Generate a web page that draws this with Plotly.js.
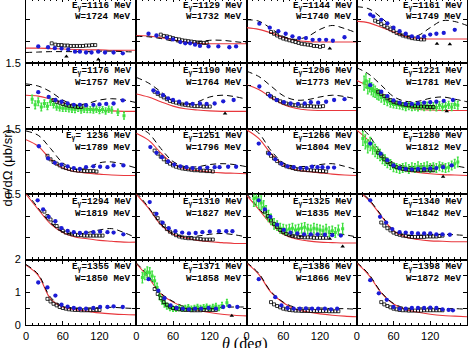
<!DOCTYPE html>
<html>
<head>
<meta charset="utf-8">
<script src="https://cdn.plot.ly/plotly-3.0.1.min.js"></script>
<style>
html,body{margin:0;padding:0;overflow:hidden;background:#fff;width:474px;height:348px;}
#chart{position:absolute;left:0;top:-10px;width:474px;height:370px;}
</style>
</head>
<body>
<div id="chart"></div>
<script>
const energies = [1116,1129,1144,1161,1176,1190,1206,1221,1236,1251,1266,1280,1294,1310,1325,1340,1355,1371,1386,1398];
const wValues = [1724,1732,1740,1749,1757,1764,1773,1781,1789,1796,1804,1812,1819,1827,1835,1842,1850,1858,1866,1872];
const gridTheta = [0,20,40,60,80,100,120,140,160,180];

const redCurves = [
[0.35,0.35,0.34,0.33,0.32,0.31,0.31,0.30,0.30,0.30],
[0.64,0.63,0.59,0.54,0.49,0.46,0.45,0.45,0.45,0.45],
[0.82,0.78,0.70,0.60,0.53,0.50,0.49,0.49,0.49,0.49],
[0.97,0.93,0.83,0.72,0.62,0.57,0.56,0.56,0.56,0.56],
[0.77,0.75,0.68,0.60,0.52,0.47,0.43,0.41,0.40,0.40],
[0.80,0.73,0.62,0.52,0.46,0.43,0.41,0.40,0.40,0.40],
[1.01,0.90,0.72,0.56,0.47,0.43,0.42,0.42,0.42,0.42],
[1.11,0.98,0.80,0.60,0.50,0.45,0.43,0.42,0.42,0.42],
[1.25,1.10,0.80,0.60,0.52,0.48,0.46,0.44,0.43,0.43],
[1.40,1.24,0.95,0.70,0.58,0.54,0.51,0.49,0.48,0.47],
[1.48,1.28,0.93,0.67,0.56,0.52,0.49,0.46,0.44,0.43],
[1.47,1.22,0.88,0.64,0.54,0.50,0.47,0.45,0.44,0.43],
[1.50,1.15,0.82,0.62,0.52,0.48,0.44,0.42,0.40,0.40],
[1.50,1.18,0.80,0.58,0.50,0.44,0.41,0.39,0.37,0.37],
[1.48,1.15,0.82,0.58,0.48,0.43,0.40,0.39,0.38,0.38],
[1.60,1.36,1.00,0.66,0.52,0.46,0.43,0.42,0.41,0.41],
[1.83,1.52,0.80,0.55,0.47,0.42,0.37,0.34,0.32,0.31],
[1.88,1.45,0.95,0.70,0.54,0.45,0.38,0.33,0.30,0.28],
[1.90,1.55,1.00,0.68,0.48,0.40,0.34,0.30,0.27,0.25],
[1.90,1.52,0.98,0.64,0.47,0.39,0.33,0.29,0.27,0.25]
];

const dashCurves = [
[0.25,0.26,0.27,0.27,0.27,0.27,0.28,0.28,0.27,0.26],
[0.62,0.61,0.57,0.51,0.47,0.49,0.53,0.53,0.50,0.47],
[1.00,0.97,0.80,0.62,0.55,0.62,0.78,0.87,0.80,0.70],
[1.30,1.25,1.05,0.80,0.62,0.64,0.82,0.98,0.96,0.87],
[1.03,0.98,0.85,0.66,0.55,0.58,0.66,0.69,0.66,0.60],
[1.18,1.05,0.85,0.63,0.56,0.62,0.73,0.77,0.74,0.68],
[1.32,1.20,0.98,0.76,0.66,0.67,0.73,0.77,0.74,0.68],
[1.40,1.25,1.00,0.74,0.63,0.63,0.70,0.73,0.68,0.62],
[1.45,1.35,1.05,0.72,0.57,0.60,0.72,0.74,0.68,0.60],
[1.55,1.40,1.05,0.75,0.63,0.63,0.68,0.70,0.68,0.63],
[1.58,1.40,1.00,0.72,0.64,0.64,0.68,0.70,0.64,0.56],
[1.62,1.35,0.95,0.72,0.64,0.64,0.66,0.67,0.65,0.60],
[1.55,1.18,0.84,0.64,0.58,0.62,0.68,0.71,0.62,0.50],
[1.55,1.20,0.82,0.60,0.52,0.54,0.58,0.60,0.57,0.52],
[1.52,1.18,0.85,0.62,0.53,0.55,0.58,0.60,0.57,0.52],
[1.62,1.38,1.02,0.68,0.56,0.56,0.57,0.58,0.57,0.55],
[1.85,1.55,0.85,0.58,0.52,0.52,0.53,0.54,0.52,0.50],
[1.90,1.50,0.98,0.72,0.56,0.52,0.52,0.54,0.55,0.55],
[1.92,1.58,1.02,0.70,0.54,0.52,0.52,0.50,0.50,0.48],
[1.92,1.55,1.00,0.66,0.52,0.52,0.52,0.50,0.50,0.48]
];

const blueTheta = [
[20,36,47,58,69,80,88,98,107,118,129,143,158],
[20,33,50,60,72,80,88,96,104,118,134,152,163],
[21,38,52,64,75,86,97,108,119,130,141,160],
[22,27,40,50,60,70,80,90,100,110,120,130,142,160],
[20,37,48,58,68,78,88,98,110,120,131,143,158],
[28,35,44,52,60,70,82,92,104,115,128,142,159],
[21,38,49,61,72,84,95,105,117,130,143,160],
[22,40,50,60,70,80,90,100,110,120,130,142,157],
[21,36,47,58,68,78,88,98,110,121,133,143,159],
[23,33,42,52,62,72,82,92,104,116,128,136,150,163],
[20,37,47,57,67,77,88,98,107,116,124,133,143],
[22,39,50,60,70,80,90,100,110,120,130,141,155],
[19,28,37,48,58,68,78,88,98,110,121,133,143,159],
[22,33,43,53,64,75,86,97,108,120,135,147,157],
[20,30,39,50,61,72,83,94,105,116,128,140,154],
[22,38,48,58,70,80,90,100,110,120,130,140,152],
[20,35,48,58,68,78,88,98,110,121,133,143,158],
[20,36,46,56,66,76,86,96,106,118,130,142,152,165],
[20,47,57,67,77,87,97,107,117,128,138,148],
[22,36,49,60,70,80,90,100,110,120,130,140,150,157]
];
const blueVal = [
[0.39,0.37,0.35,0.34,0.32,0.27,0.27,0.25,0.25,0.27,0.25,0.25,0.23],
[0.68,0.64,0.59,0.55,0.49,0.46,0.46,0.43,0.40,0.39,0.39,0.37,0.39],
[0.91,0.82,0.74,0.68,0.62,0.58,0.58,0.54,0.54,0.54,0.52,0.60],
[1.12,1.08,1.00,0.92,0.82,0.74,0.68,0.62,0.60,0.62,0.66,0.68,0.70,0.77],
[0.84,0.73,0.66,0.62,0.58,0.55,0.55,0.54,0.55,0.56,0.57,0.58,0.65],
[0.88,0.83,0.77,0.70,0.66,0.62,0.58,0.57,0.58,0.57,0.58,0.63,0.66],
[0.97,0.76,0.66,0.61,0.58,0.57,0.58,0.61,0.60,0.62,0.66,0.68],
[1.00,0.85,0.75,0.65,0.60,0.57,0.57,0.58,0.60,0.61,0.62,0.64,0.66],
[1.10,0.82,0.72,0.68,0.64,0.60,0.58,0.62,0.64,0.63,0.62,0.66,0.66],
[1.08,0.95,0.85,0.75,0.68,0.64,0.62,0.60,0.60,0.61,0.62,0.62,0.63,0.63],
[1.16,0.93,0.80,0.70,0.64,0.62,0.60,0.60,0.63,0.62,0.62,0.61,0.61],
[1.16,0.93,0.78,0.66,0.60,0.58,0.57,0.58,0.58,0.59,0.60,0.62,0.66],
[1.36,1.15,0.98,0.88,0.72,0.66,0.63,0.61,0.62,0.63,0.64,0.63,0.62,0.58],
[1.32,1.05,0.85,0.72,0.65,0.62,0.60,0.61,0.63,0.64,0.65,0.65,0.65],
[1.36,1.15,0.98,0.80,0.68,0.62,0.60,0.58,0.58,0.58,0.57,0.56,0.55],
[1.36,0.98,0.85,0.70,0.63,0.62,0.61,0.60,0.60,0.60,0.58,0.58,0.57],
[1.30,1.15,0.90,0.62,0.56,0.52,0.50,0.50,0.52,0.55,0.55,0.57,0.55],
[1.40,1.05,0.82,0.60,0.52,0.50,0.48,0.50,0.50,0.52,0.50,0.55,0.58,0.55],
[1.40,0.85,0.60,0.52,0.50,0.50,0.51,0.50,0.50,0.50,0.48,0.50],
[1.37,0.97,0.77,0.55,0.50,0.50,0.52,0.52,0.52,0.53,0.52,0.48,0.46,0.45]
];

const openTheta = [
[42,48,53,58,63,68,73,78,83,88,93,98,103,108,113],
[40,45,50,55,60,65,70,75,80,85,90,95,100,105,110,115],
[40,45,50,55,60,65,70,75,80,85,90,95,100,105,110,115,120,125],
[30,35,40,45,50,55,60,65,70,75,80,85,90,95,100,105,110],
[45,50,55,60,65,70,75,80,85,90],
[30,35,40,45,50,55,60,65,70,75,80,85,90,95,100,105,110,115,120],
[35,40,45,50,55,60,65,70,75,80,85,90,95,100,105,110,115,120,125],
[35,40,45,50,55,60,65,70,75,80,85,90,95,100,105,110,115,120,125],
[35,40,45,50,55,60,65,70,75,80,85,90,95,100,105,110,115],
[30,35,40,45,50,55,60,65,70,75,80,85,90,95,100,105,110,115,120,125],
[35,40,45,50,55,60,65,70,75,80,85,90,95,100,105,110,115,120,125,130],
[35,40,45,50,55,60,65,70,75,80,85,90,95,100,105,110,115,120,125],
[30,35,40,45,50,55,60,65,70,75,80,85,90,95,100,105,110,115,120,125],
[30,35,40,45,50,55,60,65,70,75,80,85,90,95,100,105,110,115,120,125],
[30,35,40,45,50,55,60,65,70,75,80,85,90,95,100,105,110,115,120,125,130],
[40,45,50,55,60,65,70,75,80,85,90,95,100,105,110,115,120,125,130,135,140],
[35,40,45,50,55,60,65,70,75,80,85,90,95,100,105,110,115,120],
[30,35,40,45,50,55,60,65,70,75,80,85,90,95,100,105,110,115,120,125,130],
[40,45,50,55,60,65,70,75,80,85,90,95,100,105,110,115,120,125,130,135,140,145,150],
[40,45,50,55,60,65,70,75,80,85,90,95,100,105,110,115,120,125,130,135,140]
];
const openVal = [
[0.46,0.43,0.42,0.42,0.41,0.41,0.40,0.40,0.40,0.40,0.40,0.41,0.41,0.42,0.42],
[0.66,0.63,0.62,0.60,0.58,0.56,0.55,0.53,0.52,0.51,0.50,0.49,0.48,0.48,0.47,0.47],
[0.72,0.68,0.64,0.60,0.57,0.55,0.53,0.51,0.49,0.47,0.45,0.44,0.43,0.42,0.40,0.40,0.38,0.40],
[0.98,0.95,0.90,0.86,0.82,0.78,0.74,0.70,0.67,0.64,0.62,0.60,0.58,0.57,0.56,0.55,0.55],
[0.66,0.62,0.60,0.57,0.55,0.53,0.52,0.51,0.50,0.50],
[0.85,0.80,0.76,0.72,0.68,0.64,0.62,0.60,0.58,0.56,0.55,0.54,0.53,0.52,0.52,0.52,0.51,0.51,0.51],
[0.80,0.74,0.70,0.66,0.63,0.60,0.58,0.56,0.55,0.54,0.53,0.53,0.52,0.52,0.52,0.51,0.51,0.51,0.52],
[0.85,0.80,0.75,0.70,0.66,0.62,0.60,0.58,0.56,0.55,0.54,0.53,0.52,0.52,0.51,0.51,0.50,0.50,0.50],
[0.88,0.80,0.74,0.70,0.66,0.62,0.60,0.58,0.56,0.55,0.54,0.54,0.53,0.53,0.53,0.53,0.52],
[1.00,0.93,0.86,0.80,0.74,0.70,0.66,0.63,0.61,0.59,0.58,0.57,0.56,0.55,0.55,0.54,0.54,0.53,0.53,0.52],
[0.95,0.88,0.82,0.76,0.71,0.67,0.64,0.62,0.60,0.58,0.57,0.56,0.56,0.55,0.55,0.54,0.54,0.53,0.53,0.52],
[0.95,0.88,0.80,0.74,0.69,0.65,0.62,0.60,0.58,0.57,0.56,0.56,0.55,0.55,0.55,0.55,0.55,0.55,0.55],
[1.10,1.00,0.92,0.84,0.77,0.71,0.66,0.62,0.60,0.58,0.57,0.56,0.56,0.55,0.55,0.55,0.55,0.55,0.55,0.55],
[1.05,0.95,0.85,0.78,0.70,0.64,0.60,0.56,0.53,0.51,0.50,0.49,0.49,0.48,0.48,0.47,0.46,0.46,0.46,0.46],
[1.10,1.00,0.90,0.82,0.75,0.68,0.63,0.59,0.56,0.54,0.53,0.52,0.52,0.51,0.51,0.51,0.50,0.50,0.50,0.50,0.50],
[0.85,0.78,0.72,0.67,0.62,0.59,0.57,0.55,0.54,0.53,0.52,0.52,0.52,0.52,0.52,0.53,0.53,0.53,0.53,0.54,0.55],
[0.80,0.72,0.65,0.60,0.55,0.52,0.50,0.48,0.47,0.46,0.46,0.45,0.45,0.45,0.45,0.46,0.46,0.46],
[1.10,0.95,0.82,0.70,0.62,0.56,0.52,0.50,0.48,0.47,0.46,0.46,0.45,0.45,0.45,0.45,0.46,0.46,0.46,0.46,0.46],
[0.70,0.63,0.58,0.54,0.50,0.48,0.46,0.45,0.44,0.44,0.43,0.43,0.43,0.43,0.43,0.43,0.43,0.43,0.43,0.42,0.42,0.42,0.42],
[0.70,0.63,0.58,0.54,0.50,0.48,0.46,0.45,0.45,0.44,0.44,0.44,0.44,0.44,0.45,0.45,0.45,0.45,0.45,0.45,0.45]
];

const triPanels = [0,2,3,5,7,11,14,17];
const triTheta = [[66,118],[136],[131,152],[145],[147],[141],[136,157],[156]];
const triVal = [[0.16,0.09],[0.34],[0.45,0.44],[0.35],[0.40],[0.40],[0.48,0.30],[0.28]];

const greenPanels = [4,7,11,14,17];
const greenTheta = [
[10,15,20,25,30,35,40,45,50,55,60,65,70,75,80,85,90,95,100,105,110,115,120,125,130,135,140,150,160],
[12,15,18,21,24,27,30,33,36,40,45,50,55,60,65,70,75,80,85,90,95,100,105,110,115,120,125,130,135,140,145,150,155,160,165],
[10,14,18,22,26,30,34,38,42,46,50,55,60,65,70,75,80,85,90,95,100,105,110,115,120,125,130,135,140,145,150,155,160,165],
[12,16,20,24,28,32,36,40,45,50,55,60,65,70,75,80,85,90,95,100,105,110,115,120,125,130,135,140,145,150,157],
[10,14,18,22,26,30,34,38,42,46,50,55,60,65,70,75,80,85,90,95,100,105,110,115,120,125,130,135,140,148]
];
const greenVal = [
[0.68,0.55,0.62,0.50,0.58,0.52,0.62,0.56,0.50,0.48,0.47,0.47,0.46,0.45,0.44,0.47,0.43,0.45,0.44,0.44,0.43,0.45,0.42,0.44,0.41,0.45,0.43,0.38,0.30],
[1.05,1.10,0.95,1.00,0.92,0.88,0.85,0.80,0.78,0.72,0.66,0.62,0.58,0.56,0.55,0.54,0.52,0.50,0.52,0.50,0.51,0.49,0.52,0.50,0.53,0.50,0.52,0.49,0.54,0.50,0.52,0.55,0.50,0.56,0.54],
[1.28,1.20,1.10,1.15,1.06,1.00,0.95,0.90,0.82,0.78,0.72,0.68,0.62,0.60,0.58,0.60,0.62,0.58,0.62,0.60,0.64,0.60,0.62,0.64,0.60,0.62,0.60,0.64,0.62,0.60,0.62,0.66,0.70,0.74],
[1.40,1.42,1.35,1.30,1.20,1.10,1.00,0.92,0.82,0.78,0.72,0.70,0.68,0.70,0.72,0.68,0.70,0.72,0.74,0.70,0.68,0.72,0.70,0.68,0.66,0.70,0.64,0.66,0.62,0.68,0.71],
[1.45,1.55,1.62,1.60,1.50,1.35,1.15,0.90,0.75,0.65,0.58,0.52,0.50,0.50,0.52,0.50,0.52,0.54,0.50,0.52,0.55,0.52,0.54,0.56,0.52,0.55,0.58,0.52,0.60,0.68]
];
const greenErr = [
[0.09,0.09,0.09,0.09,0.08,0.08,0.08,0.08,0.07,0.07,0.07,0.07,0.07,0.07,0.07,0.07,0.07,0.07,0.07,0.07,0.07,0.07,0.07,0.07,0.07,0.07,0.07,0.07,0.08],
[0.16,0.16,0.15,0.15,0.14,0.14,0.13,0.12,0.12,0.11,0.10,0.09,0.08,0.08,0.08,0.08,0.08,0.08,0.08,0.08,0.08,0.08,0.08,0.08,0.08,0.08,0.08,0.08,0.08,0.08,0.08,0.08,0.08,0.09,0.09],
[0.16,0.16,0.15,0.15,0.14,0.14,0.13,0.13,0.12,0.12,0.11,0.11,0.10,0.10,0.10,0.10,0.10,0.10,0.10,0.10,0.10,0.10,0.10,0.10,0.10,0.10,0.10,0.10,0.10,0.10,0.10,0.10,0.10,0.11],
[0.18,0.18,0.17,0.16,0.15,0.14,0.13,0.12,0.12,0.11,0.11,0.11,0.11,0.11,0.11,0.11,0.11,0.11,0.11,0.11,0.11,0.11,0.11,0.11,0.11,0.11,0.11,0.11,0.11,0.11,0.12],
[0.16,0.16,0.16,0.15,0.15,0.14,0.13,0.12,0.11,0.10,0.09,0.08,0.08,0.08,0.08,0.08,0.08,0.08,0.08,0.08,0.08,0.08,0.08,0.08,0.08,0.08,0.08,0.08,0.09,0.10]
];

const xTickVals = [0,60,120,180];
const xTickTextInner = ['0','60','120',''];
const xTickTextLast = ['0','60','120','180'];
const yTickValsUpper = [0,0.5,1,1.5];
const yTickTextUpper = ['','','','1.5'];
const yTickValsLower = [0,0.5,1,1.5,2];
const yTickTextLower = ['0','','1','','2'];

const RED = '#e8373c', BLUE = '#1c1cd6', GREEN = '#3fe03f';
const traces = [];
const layout = {
  width: 474, height: 370,
  margin: {l: 26, r: 7, t: 7.5, b: 35},
  paper_bgcolor: '#fff', plot_bgcolor: '#fff',
  showlegend: false,
  annotations: []
};
const tickFont = {family: 'Liberation Sans, Arial, sans-serif', size: 11, color: '#000'};
const labFont = {family: 'Liberation Mono, Courier New, monospace', size: 9.2, color: '#000'};

for (let i = 0; i < 20; i++) {
  const r = Math.floor(i / 4), c = i % 4;
  const n = i + 1;
  const xs = n === 1 ? 'x' : 'x' + n;
  const ys = n === 1 ? 'y' : 'y' + n;
  traces.push({x: gridTheta, y: redCurves[i], xaxis: xs, yaxis: ys, type: 'scatter', mode: 'lines',
    line: {color: RED, width: 1.1, shape: 'spline', smoothing: 1}, hoverinfo: 'skip'});
  traces.push({x: gridTheta, y: dashCurves[i], xaxis: xs, yaxis: ys, type: 'scatter', mode: 'lines',
    line: {color: '#000', width: 1, dash: '6px,4px', shape: 'spline', smoothing: 1}, hoverinfo: 'skip'});
  const g = greenPanels.indexOf(i);
  if (g >= 0) {
    traces.push({x: greenTheta[g], y: greenVal[g], xaxis: xs, yaxis: ys, type: 'scatter', mode: 'markers',
      marker: {symbol: 'square', size: 3, color: GREEN},
      error_y: {type: 'data', array: greenErr[g], color: GREEN, thickness: 1.3, width: 1}});
  }
  traces.push({x: openTheta[i], y: openVal[i], xaxis: xs, yaxis: ys, type: 'scatter', mode: 'markers',
    marker: {symbol: 'square-open', size: 3, color: '#000', line: {width: 0.8, color: '#000'}}});
  traces.push({x: blueTheta[i], y: blueVal[i], xaxis: xs, yaxis: ys, type: 'scatter', mode: 'markers',
    marker: {symbol: 'circle', size: 4.3, color: BLUE}});
  const t = triPanels.indexOf(i);
  if (t >= 0) {
    traces.push({x: triTheta[t], y: triVal[t], xaxis: xs, yaxis: ys, type: 'scatter', mode: 'markers',
      marker: {symbol: 'triangle-up', size: 4, color: '#000'}});
  }
  const common = {showline: true, linecolor: '#000', linewidth: 1, mirror: 'ticks', ticks: 'inside',
    ticklen: 4, tickwidth: 1, tickcolor: '#000', showgrid: false, zeroline: false, tickfont: tickFont};
  layout['xaxis' + (n === 1 ? '' : n)] = Object.assign({}, common, {
    domain: [c * 0.25, (c + 1) * 0.25], range: [0, 180], anchor: ys,
    tickmode: 'array', tickvals: xTickVals, ticktext: c === 3 ? xTickTextLast : xTickTextInner,
    showticklabels: r === 4, ticklabelstandoff: 1,
    minor: {ticks: 'inside', ticklen: 2.5, tickwidth: 1, tickcolor: '#000', dtick: 10, tick0: 0, showgrid: false}
  });
  layout['yaxis' + (n === 1 ? '' : n)] = Object.assign({}, common, {
    domain: [1 - (r + 1) * 0.2, 1 - r * 0.2], range: r === 4 ? [0, 2] : [0, 1.5], anchor: xs,
    tickmode: 'array', tickvals: r === 4 ? yTickValsLower : yTickValsUpper,
    ticktext: r === 4 ? yTickTextLower : (r === 0 ? ['', '', '', ''] : yTickTextUpper),
    showticklabels: c === 0, ticklabelstandoff: 2
  });
  layout.annotations.push({xref: xs + ' domain', yref: ys + ' domain', x: 1, y: 0.885, xanchor: 'right', yanchor: 'middle',
    xshift: -3, showarrow: false, font: labFont,
    text: '<b>E<sub>γ</sub>=' + (energies[i] === 1236 ? ' ' : '') + energies[i] + ' MeV</b>'});
  layout.annotations.push({xref: xs + ' domain', yref: ys + ' domain', x: 1, y: 0.71, xanchor: 'right', yanchor: 'middle',
    xshift: -3, showarrow: false, font: labFont,
    text: '<b>W=' + wValues[i] + ' MeV</b>'});
}
layout.annotations.push({xref: 'paper', yref: 'paper', x: -0.043, y: 0.479, xanchor: 'center', yanchor: 'middle',
  textangle: -90, showarrow: false, text: 'dσ/dΩ (μb/sr)',
  font: {family: 'Liberation Sans, Arial, sans-serif', size: 13, color: '#000'}});
layout.annotations.push({xref: 'paper', yref: 'paper', x: 0.497, y: -0.058, xanchor: 'center', yanchor: 'middle',
  showarrow: false, text: '<i>θ</i> (deg)',
  font: {family: 'Liberation Serif, Times New Roman, serif', size: 16, color: '#000'}});

Plotly.newPlot('chart', traces, layout, {displayModeBar: false, staticPlot: true});
</script>
</body>
</html>
